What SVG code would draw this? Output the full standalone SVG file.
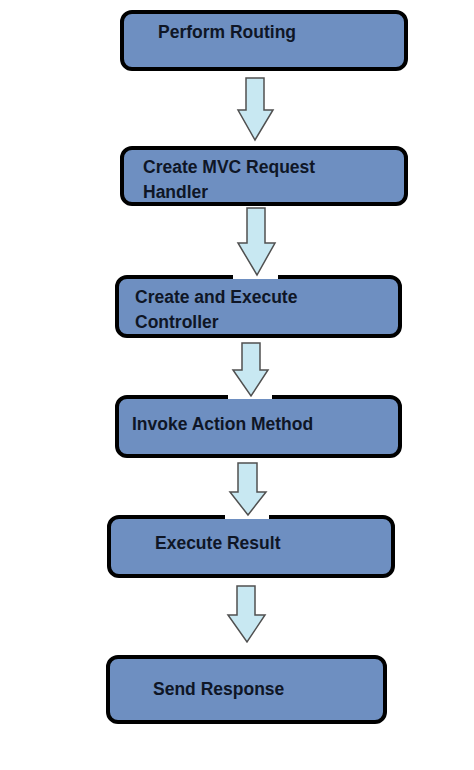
<svg xmlns="http://www.w3.org/2000/svg" width="474" height="770" viewBox="0 0 474 770">
<style>
.box{fill:#6e8fc1;stroke:#000;stroke-width:4}
.lbl{font-family:"Liberation Sans",Arial,sans-serif;font-weight:bold;font-size:17.5px;fill:#0f1626}
.arr{fill:#c8e8f2;stroke:#505050;stroke-width:1.5;stroke-linejoin:miter}
.gap{fill:#fff}
</style>
<rect width="474" height="770" fill="#fff"/>
<g id="n1"><rect class="box" x="122" y="12" width="284" height="57" rx="10" ry="10"/><text class="lbl" x="158" y="38">Perform Routing</text></g>
<g id="n2"><rect class="box" x="122" y="148" width="284" height="56" rx="10" ry="10"/><text class="lbl" x="143" y="173">Create MVC Request</text><text class="lbl" x="143" y="198">Handler</text></g>
<g id="n3"><rect class="box" x="117" y="277" width="283" height="59" rx="10" ry="10"/><text class="lbl" x="135" y="303">Create and Execute</text><text class="lbl" x="135" y="328">Controller</text></g>
<g id="n4"><rect class="box" x="117" y="397" width="283" height="59" rx="10" ry="10"/><text class="lbl" x="132" y="430">Invoke Action Method</text></g>
<g id="n5"><rect class="box" x="109" y="517" width="284" height="59" rx="10" ry="10"/><text class="lbl" x="155" y="549">Execute Result</text></g>
<g id="n6"><rect class="box" x="108" y="657" width="277" height="65" rx="10" ry="10"/><text class="lbl" x="153" y="695">Send Response</text></g>
<g id="connectors">
<path class="arr" d="M246,78 H264 V110 H273 L255,140 L238,110 H246 Z"/>
<rect class="gap" x="233" y="272" width="45" height="7"/>
<path class="arr" d="M247,208 H265 V243 H275 L257,275 L238,243 H247 Z"/>
<rect class="gap" x="228" y="392" width="44" height="7"/>
<path class="arr" d="M242,343 H260 V370 H268 L251,396 L233,370 H242 Z"/>
<rect class="gap" x="225" y="512" width="44" height="7"/>
<path class="arr" d="M238,463 H257 V492 H266 L248,515 L230,492 H238 Z"/>
<path class="arr" d="M237,586 H255 V615 H265 L247,642 L228,615 H237 Z"/>
</g>
</svg>
